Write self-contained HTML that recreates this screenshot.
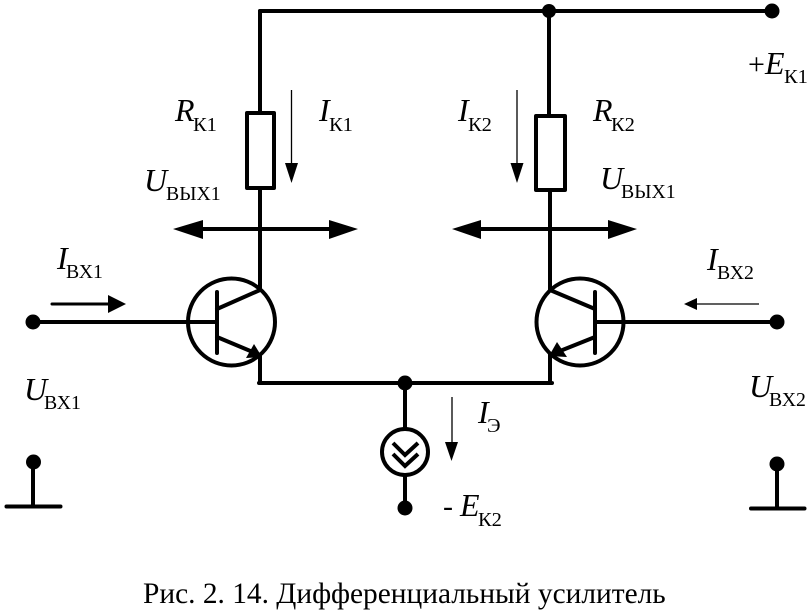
<!DOCTYPE html>
<html><head><meta charset="utf-8">
<style>
html,body{margin:0;padding:0;background:#fff;width:812px;height:616px;overflow:hidden}
svg{display:block}
text{font-family:"Liberation Serif",serif;fill:#000}
.m{font-style:italic;font-size:32px}
.s{font-size:20.500px}
.t{font-size:19.800px}
.n{font-size:30px}
</style></head><body>
<svg width="812" height="616" viewBox="0 0 812 616" xmlns="http://www.w3.org/2000/svg">
<g fill="none" stroke="#000" stroke-width="4" stroke-linecap="round" stroke-linejoin="round">
<path d="M260 11H772"/>
<path d="M260 11V113M260 188V290"/>
<rect x="247" y="113" width="27" height="75"/>
<path d="M549 11V116M550 190V290"/>
<rect x="536" y="116" width="29" height="74"/>
<path d="M195 229H340M470 229H620"/>
<path d="M33 322H217M595 322H777"/>
<circle cx="231.500" cy="322" r="43.500"/>
<circle cx="580" cy="322" r="43.500"/>
<path d="M217 292V353M217 309L260 290M217 337L260 355"/>
<path d="M595 292V353M595 309L550 290M595 337L550 355"/>
<path d="M260 355V383M550 355V383M259 383H552"/>
<path d="M405 383V429M405 475V508"/>
<circle cx="405" cy="452" r="23"/>
<path d="M393 443L405 455L418 443M393 454L405 466L418 454" stroke-width="4" stroke-linecap="butt" stroke-linejoin="miter"/>
<path d="M33 462V506M6.500 506.500H60.500"/>
<path d="M777 464V508M751 508.500H804.500"/>
<path d="M52 304H110" stroke-width="3"/>
</g>
<g fill="none" stroke="#000" stroke-width="1.300">
<path d="M291.500 90V165M517 90V165M452 397V444M759 304H696"/>
</g>
<g fill="#000">
<circle cx="549" cy="11" r="7"/>
<circle cx="772" cy="11" r="7.500"/>
<circle cx="33" cy="322" r="7.500"/>
<circle cx="777" cy="322" r="7.500"/>
<circle cx="405" cy="383" r="7.500"/>
<circle cx="405" cy="508" r="7.500"/>
<circle cx="33.500" cy="462" r="7.500"/>
<circle cx="777" cy="464" r="7.500"/>
<path d="M173 229L203 220V239Z"/>
<path d="M358 229L329 220V239Z"/>
<path d="M452 229L481 220V239Z"/>
<path d="M637 229L608 220V239Z"/>
<path d="M126 304L108 295V313Z"/>
<path d="M684 304L697 298V310Z"/>
<path d="M291.500 183L285 163H298Z"/>
<path d="M517 183L510.500 163H523.500Z"/>
<path d="M451.500 461L445 442H458Z"/>
<path d="M262 357L246 358L254 344Z"/>
<path d="M549 356L567 357L557 342Z"/>
</g>
<text class="m" x="175" y="121">R</text><text class="s" x="193" y="131">К1</text>
<text class="m" x="319" y="121">I</text><text class="s" x="329" y="131">К1</text>
<text class="m" x="458" y="121">I</text><text class="s" x="468" y="131">К2</text>
<text class="m" x="593" y="121">R</text><text class="s" x="611" y="131">К2</text>
<text class="m" x="144" y="191">U</text><text class="t" x="166" y="200">ВЫХ1</text>
<text class="m" x="600" y="189">U</text><text class="t" x="621" y="198">ВЫХ1</text>
<text class="m" x="57" y="269">I</text><text class="t" x="66" y="278">ВХ1</text>
<text class="m" x="707" y="270">I</text><text class="t" x="717" y="279">ВХ2</text>
<text class="m" x="24" y="400">U</text><text class="t" x="44" y="409">ВХ1</text>
<text class="m" x="749" y="397">U</text><text class="t" x="769" y="406">ВХ2</text>
<text class="m" x="478" y="423">I</text><text class="s" x="487" y="432">Э</text>
<text class="n" x="443" y="516">-</text><text class="m" x="460" y="516">E</text><text class="s" x="478" y="526">К2</text>
<text class="n" x="748" y="74">+</text><text class="m" x="765" y="74">E</text><text class="s" x="784" y="83">К1</text>
<text x="143" y="603" font-size="29.400">Рис. 2. 14. Дифференциальный усилитель</text>
</svg>
</body></html>
